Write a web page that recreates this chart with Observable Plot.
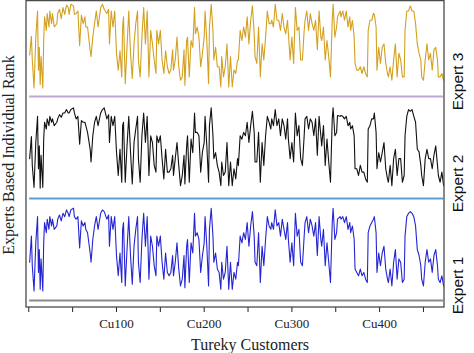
<!DOCTYPE html>
<html><head><meta charset="utf-8">
<script src="https://cdn.jsdelivr.net/npm/d3@7"></script>
<script src="https://cdn.jsdelivr.net/npm/@observablehq/plot@0.6"></script>
<style>body{margin:0;background:#fff}</style>
</head><body><div id="chart"></div>
<script>
const experts = ["Expert 3", "Expert 2", "Expert 1"];
const lineColors = {"Expert 3": "#d4a020", "Expert 2": "#111111", "Expert 1": "#2424d4"};
const baseColors = {"Expert 3": "#bca9d6", "Expert 2": "#5c9fd6", "Expert 1": "#8a8a8a"};
const xTicks = [0, 50, 100, 150, 200, 250, 300, 350, 400, 450];
const xLabel = "Tureky Customers";
const yLabel = "Experts Based Individual Rank";

const customers = [
1,3,4,6,8,10,11,12,13,14, 16,17,18,20,21,23,24,26,27,29, 32,33,35,37,39,41,43,45,46,48, 51,52,54,56,58,60,62,64,65,67, 70,71,73,75,77,79,82,84,86,89, 91,92,94,96,98,100,102,104,106,107, 108,110,112,114,116,118,120,122,124,125, 127,129,131,133,135,137,
139,141,143,145,146,148,150,152,154,156, 158,160,162,164,165,167,169,171,173,175, 177,178,180,181,183,185,187,189,190,192, 194,196,198,200,201,203,205,206,208,210, 211,213,215,217,219,220,222,224,226,228, 230,232,234,236,238,239,241,243,245,247, 249,251,253,255,257,258,260,262,264,266, 268,270,272,274,276,277,279,281,283,285, 287,289,291,293,295,296,298,300,302,304, 306,308,
310,312,314,315,317,319,321,323,325,327, 329,331,333,334,336,338,340,342,344,346, 347,349,351,352,355,356,358,360,362,364, 366,367,369,371,372,374,376,378,380,382, 384,386,387,389,391,393,394,396,397,399, 401,403,405,407,409,410,412,414,416,418, 420,422,424,426,428,429,431,433,435,437, 439,441,443,445,447,448,450,452,454,456, 458,460,462,464,466,467,469,471,473
];

const expert1 = [
36,67,32,2,59,90,24,51,4,40, 2,59,83,71,87,75,90,79,87,75, 79,87,92,85,94,90,98,94,90,98, 100,90,87,90,53,85,79,83,75,71, 47,36,63,79,90,75,94,98,96,87, 92,55,90,75,90,44,20,47,12,75, 83,8,51,90,44,10,55,75,90,36, 12,63,94,55,90,16,
67,55,32,20,67,55,67,36,16,47, 24,20,24,44,20,36,59,28,8,16, 44,6,55,63,12,59,47,94,67,71, 63,24,44,59,90,55,8,75,100,67, 36,47,28,24,4,36,16,24,55,4, 36,4,24,16,36,32,67,59,71,63, 83,55,79,96,67,36,32,71,12,55, 32,63,90,79,75,83,75,98,79,83, 67,87,75,63,83,63,36,59,32,94, 67,75,
36,32,67,83,90,71,87,79,67,83, 44,90,63,55,75,32,59,36,12,83, 100,63,71,87,90,87,90,83,90,75, 83,71,79,63,28,24,20,28,20,24, 16,12,71,79,83,87,90,71,24,47, 32,47,55,28,16,12,28,8,36,51, 16,40,36,12,16,67,90,94,96,94, 90,79,51,44,32,16,8,36,51,36, 40,24,44,51,32,16,12,20,8
];

const expert2 = [
38,64,30,4,57,88,26,53,3,42, 4,61,81,73,85,77,88,81,85,77, 81,85,90,87,92,92,96,92,92,96, 98,92,85,88,55,83,81,81,77,69, 49,34,65,81,88,77,92,96,98,85, 90,57,88,77,88,46,18,49,10,77, 81,10,53,88,46,8,57,73,88,38, 10,65,92,57,88,18,
65,57,30,22,65,57,65,38,14,49, 22,22,26,42,18,38,57,30,6,18, 42,8,53,65,10,61,45,92,69,69, 65,22,46,57,88,53,10,77,98,65, 38,45,30,22,6,34,18,22,57,6, 34,6,26,14,38,30,65,61,69,65, 81,57,77,94,69,34,34,69,10,57, 30,65,88,81,73,85,77,96,77,85, 65,85,77,61,85,61,38,57,34,92, 65,77,
38,30,65,85,88,73,85,81,65,85, 42,88,65,53,77,30,61,34,10,85, 98,65,69,89,88,89,88,85,88,77, 81,73,77,65,26,26,18,30,22,22, 14,10,73,77,85,85,92,69,26,45, 34,45,57,26,14,10,30,6,38,49, 18,38,38,10,18,65,88,96,94,96, 88,81,49,46,30,18,6,38,49,38, 38,26,42,53,30,18,10,22,6
];

const expert3 = [
40,62,34,1,61,92,22,49,5,38, 1,57,85,69,89,73,92,77,89,73, 77,89,94,83,96,88,99,96,88,100, 98,88,89,92,51,87,77,85,73,73, 45,38,61,77,92,73,96,100,94,89, 94,53,92,73,92,42,22,45,14,73, 85,6,49,92,42,12,53,77,92,34, 14,61,96,53,92,14,
69,53,34,18,69,53,69,34,18,45, 26,18,22,46,22,34,61,26,10,14, 46,4,57,61,14,57,49,96,65,73, 61,26,42,61,92,57,6,73,100,69, 34,49,26,26,2,38,14,26,53,2, 38,2,22,18,34,34,69,57,73,61, 85,53,81,98,65,38,30,73,14,53, 34,61,92,77,77,81,73,100,81,81, 69,89,73,65,81,65,34,61,30,96, 69,73,
34,34,69,81,92,69,89,77,69,81, 46,92,61,57,73,34,57,38,14,81, 100,61,73,85,92,85,92,81,92,73, 85,69,81,61,30,22,22,26,18,26, 18,14,69,81,81,89,88,73,22,49, 30,49,53,30,18,14,26,10,34,53, 14,42,34,14,14,69,92,92,98,92, 92,77,53,42,34,14,10,34,53,34, 42,22,46,49,34,14,14,18,10
];

const seriesByExpert = {"Expert 1": expert1, "Expert 2": expert2, "Expert 3": expert3};
const rows = experts.flatMap(e => customers.map((c, i) => ({expert: e, customer: c, rank: seriesByExpert[e][i]})).filter(d => d.rank != null));
const baseLevel = -9.2;
const baseRows = experts.map(e => ({expert: e, level: baseLevel, x1: d3.min(customers), x2: d3.max(customers)}));

const serif = "'Liberation Serif','Times New Roman',Times,serif";
const sans = "'Liberation Sans',Arial,Helvetica,sans-serif";

const W = 474, H = 353, mL = 26, mR = 30, mT = 0, mB = 46;

const plot = Plot.plot({
  width: W, height: H, marginTop: mT, marginLeft: mL, marginRight: mR, marginBottom: mB,
  style: {fontFamily: serif, fontSize: "13px", background: "#fff", color: "#222"},
  x: {domain: [-2.6, 474], ticks: xTicks, tickSize: 5, tickPadding: 6,
      tickFormat: d => (d > 0 && d % 100 === 0) ? "Cu" + d : "", label: null},
  y: {domain: [-17.5, 103.2], axis: null},
  fy: {domain: experts, padding: 0, axis: null, label: null},
  marks: [
    Plot.ruleY(baseRows, {fy: "expert", y: "level", x1: "x1", x2: "x2", stroke: d => baseColors[d.expert], strokeWidth: 2}),
    ...experts.map(e => Plot.line(rows.filter(d => d.expert === e), {fy: "expert", x: "customer", y: "rank", stroke: lineColors[e], strokeWidth: 1.1})),
    Plot.text(experts, {fy: d => d, text: d => d, frameAnchor: "right", rotate: -90, dx: 14, fontFamily: sans, fontSize: 15.5, fill: "#111"})
  ]
});

const svg = d3.select(plot);
svg.append("rect")
  .attr("x", mL).attr("y", 0.6).attr("width", W - mL - mR).attr("height", H - mB - 0.6)
  .attr("fill", "none").attr("stroke", "#4a4a4a").attr("stroke-width", 1.3);
svg.append("text")
  .attr("transform", "translate(14,155) rotate(-90)")
  .attr("text-anchor", "middle").attr("font-family", serif).attr("font-size", 16).attr("fill", "#222")
  .text(yLabel);
svg.append("text")
  .attr("x", 250).attr("y", 350)
  .attr("text-anchor", "middle").attr("font-family", serif).attr("font-size", 16).attr("fill", "#222")
  .text(xLabel);

document.getElementById("chart").appendChild(plot);
</script>
</body></html>
